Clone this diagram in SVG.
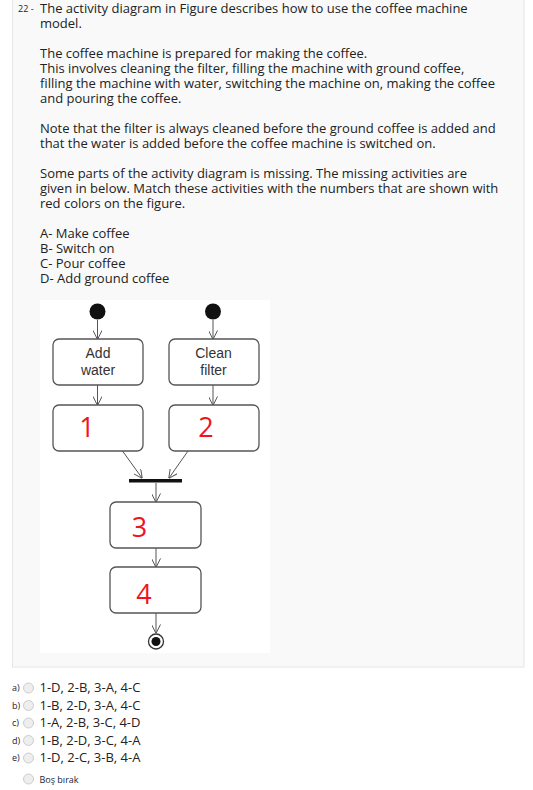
<svg xmlns="http://www.w3.org/2000/svg" width="533" height="790" viewBox="0 0 533 790">
<style>
.t{font-family:"Open Sans","Noto Sans",sans-serif;font-size:13px;fill:#222}
.s{font-family:"Open Sans","Noto Sans",sans-serif;font-size:9px;fill:#223}
.n{font-family:"Liberation Sans",Arial,sans-serif;font-size:14px;fill:#333;text-anchor:middle}
.r{font-family:"Open Sans","Noto Sans",sans-serif;font-size:27px;fill:#f0141e;text-anchor:middle}
.box{fill:#fff;stroke:#555;stroke-width:1.3}
.ln{stroke:#555;stroke-width:1;fill:none;marker-end:url(#a)}
.rad{fill:#eee;stroke:#ccc;stroke-width:1}
</style>
<defs>
<marker id="a" viewBox="0 0 10 10" refX="9.5" refY="5" markerWidth="9" markerHeight="9" markerUnits="userSpaceOnUse" orient="auto">
<path d="M0,0 L10,5 L0,10" fill="none" stroke="#555" stroke-width="1.1"/>
</marker>
</defs>
<rect x="0" y="0" width="533" height="790" fill="#fff"/>
<rect x="12.5" y="-1" width="511.5" height="668" fill="#f9f9f9" stroke="#e6e6e6" stroke-width="1"/>
<text class="s" x="18" y="12">22 -</text>
<g class="t">
<text x="40" y="13">The activity diagram in Figure describes how to use the coffee machine</text>
<text x="40" y="28">model.</text>
<text x="40" y="58">The coffee machine is prepared for making the coffee.</text>
<text x="40" y="73">This involves cleaning the filter, filling the machine with ground coffee,</text>
<text x="40" y="88">filling the machine with water, switching the machine on, making the coffee</text>
<text x="40" y="103">and pouring the coffee.</text>
<text x="40" y="133">Note that the filter is always cleaned before the ground coffee is added and</text>
<text x="40" y="148">that the water is added before the coffee machine is switched on.</text>
<text x="40" y="178">Some parts of the activity diagram is missing. The missing activities are</text>
<text x="40" y="193">given in below. Match these activities with the numbers that are shown with</text>
<text x="40" y="208">red colors on the figure.</text>
<text x="40" y="238">A- Make coffee</text>
<text x="40" y="253">B- Switch on</text>
<text x="40" y="268">C- Pour coffee</text>
<text x="40" y="283">D- Add ground coffee</text>
</g>
<rect x="40" y="300" width="230" height="353" fill="#fff"/>
<g id="connectors">
<line class="ln" x1="97.5" y1="320" x2="97.5" y2="339"/>
<line class="ln" x1="213" y1="320" x2="213" y2="339"/>
<line class="ln" x1="97.5" y1="385" x2="97.5" y2="405"/>
<line class="ln" x1="213" y1="385" x2="213" y2="405"/>
<line class="ln" x1="122.5" y1="451" x2="142" y2="478"/>
<line class="ln" x1="188" y1="451" x2="169" y2="478"/>
<line class="ln" x1="156" y1="483" x2="156" y2="502"/>
<line class="ln" x1="156" y1="548" x2="156" y2="567"/>
<line class="ln" x1="156" y1="613" x2="156" y2="633"/>
</g>
<g id="start1"><circle cx="97.5" cy="311.5" r="8" fill="#111"/></g>
<g id="start2"><circle cx="213" cy="311.5" r="8" fill="#111"/></g>
<g id="addwater"><rect class="box" x="53" y="339" width="90" height="46" rx="6"/>
<text class="n" x="98" y="358">Add</text><text class="n" x="98" y="375">water</text></g>
<g id="cleanfilter"><rect class="box" x="169" y="339" width="90" height="46" rx="6"/>
<text class="n" x="213.5" y="358">Clean</text><text class="n" x="213.5" y="375">filter</text></g>
<g id="n1"><rect class="box" x="53" y="405" width="90" height="46" rx="6"/>
<text class="r" x="87" y="437">1</text></g>
<g id="n2"><rect class="box" x="169" y="405" width="90" height="46" rx="6"/>
<text class="r" x="206" y="437">2</text></g>
<g id="join"><rect x="129" y="479" width="53" height="3.5" fill="#111"/></g>
<g id="n3"><rect class="box" x="110" y="502" width="91" height="46" rx="6"/>
<text class="r" x="139.5" y="537">3</text></g>
<g id="n4"><rect class="box" x="110" y="567" width="91" height="46" rx="6"/>
<text class="r" x="144" y="604">4</text></g>
<g id="end"><circle cx="156" cy="641.5" r="7.5" fill="#fff" stroke="#333" stroke-width="1.3"/><circle cx="156" cy="641.5" r="4.5" fill="#111"/></g>
<g id="options">
<text class="s" x="12" y="691">a)</text><circle class="rad" cx="28.5" cy="688" r="5"/><text class="t" x="39.5" y="692">1-D, 2-B, 3-A, 4-C</text>
<text class="s" x="12" y="708.5">b)</text><circle class="rad" cx="28.5" cy="705.5" r="5"/><text class="t" x="39.5" y="709.5">1-B, 2-D, 3-A, 4-C</text>
<text class="s" x="12" y="726">c)</text><circle class="rad" cx="28.5" cy="723" r="5"/><text class="t" x="39.5" y="727">1-A, 2-B, 3-C, 4-D</text>
<text class="s" x="12" y="743.5">d)</text><circle class="rad" cx="28.5" cy="740.5" r="5"/><text class="t" x="39.5" y="744.5">1-B, 2-D, 3-C, 4-A</text>
<text class="s" x="12" y="761">e)</text><circle class="rad" cx="28.5" cy="758" r="5"/><text class="t" x="39.5" y="762">1-D, 2-C, 3-B, 4-A</text>
<circle class="rad" cx="28.5" cy="779" r="5"/><text class="s" x="39.5" y="782.5">Boş bırak</text>
</g>
</svg>
